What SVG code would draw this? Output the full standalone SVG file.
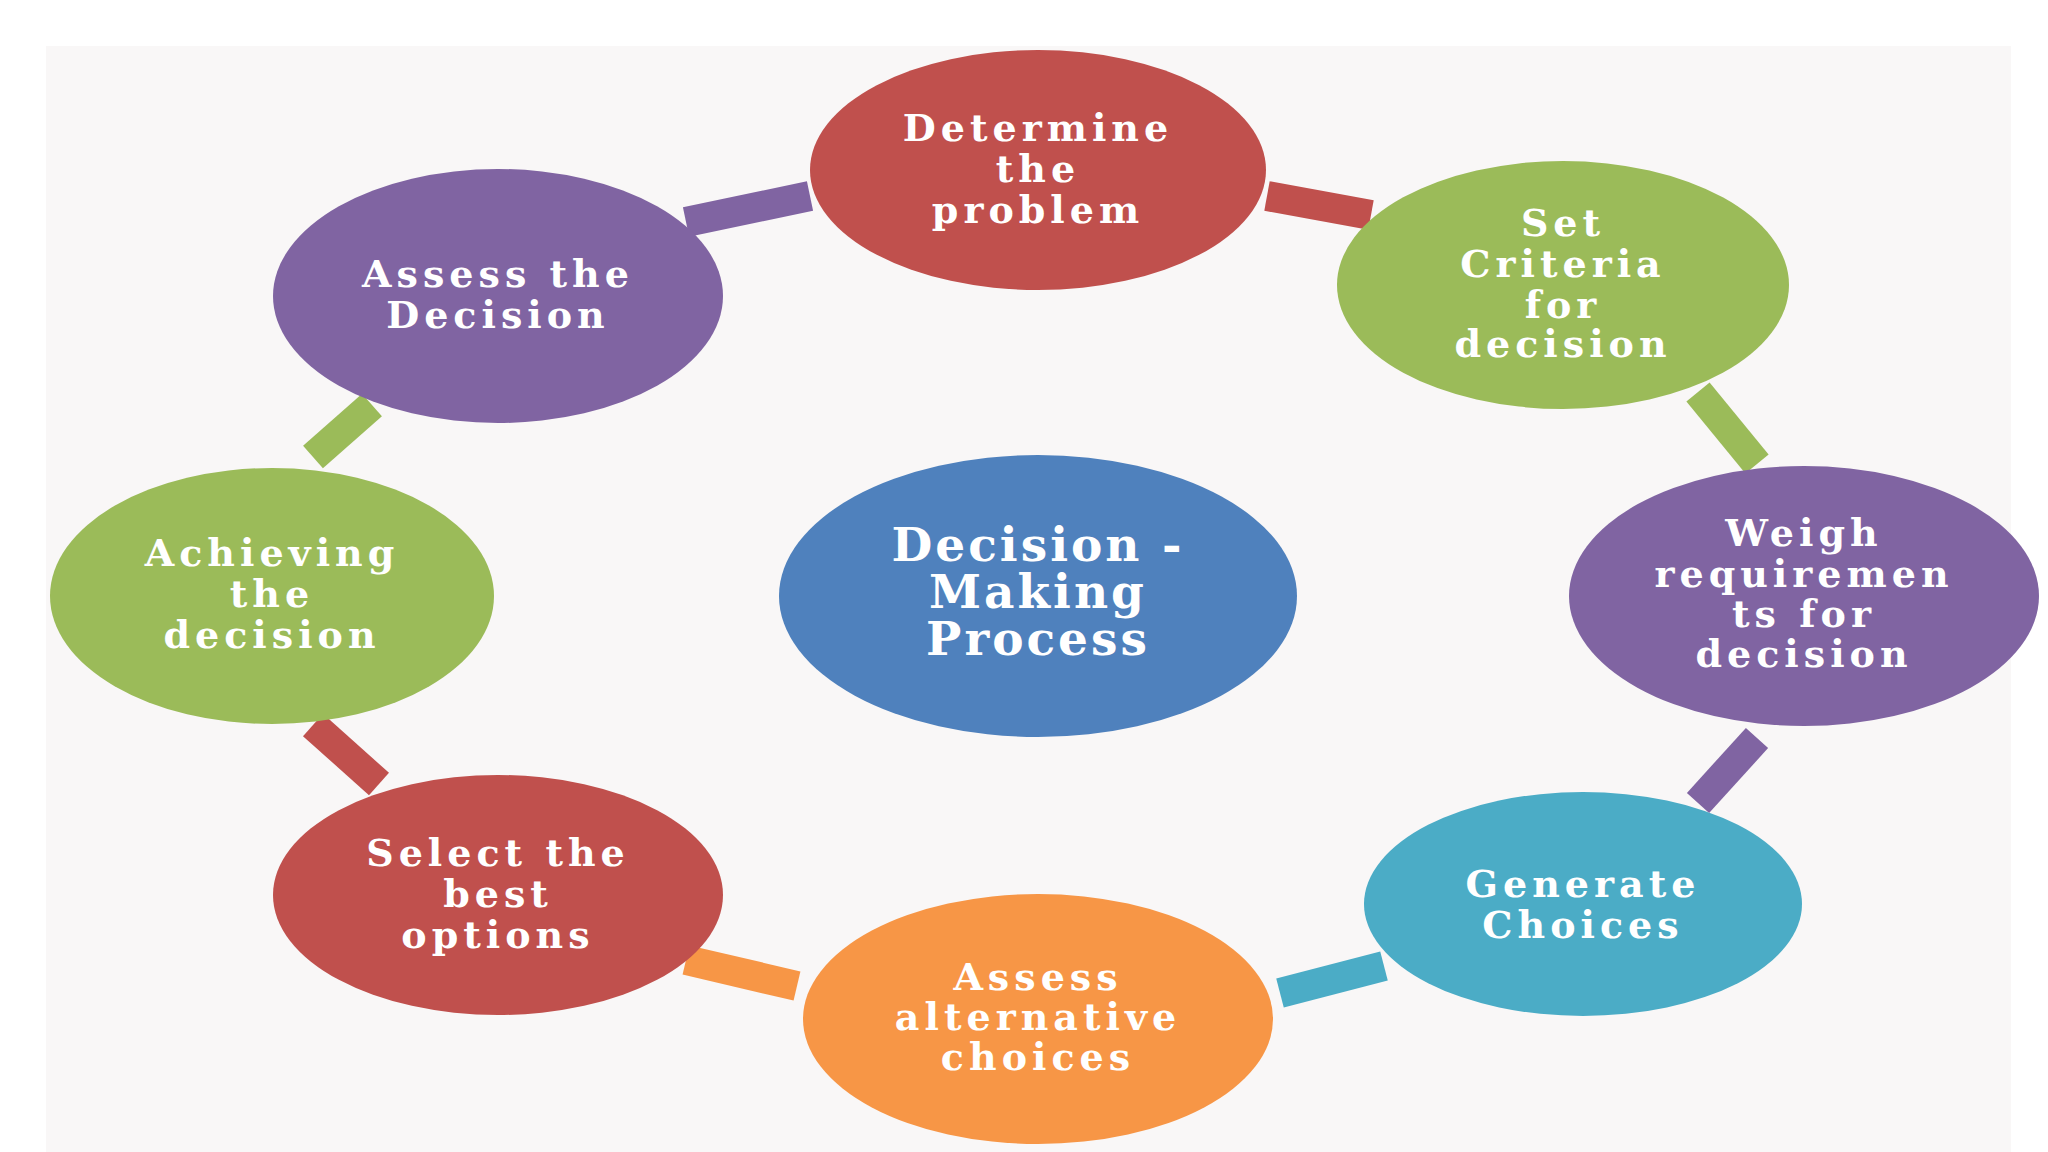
<svg xmlns="http://www.w3.org/2000/svg" width="2048" height="1152" viewBox="0 0 2048 1152">
<style>
.t{font-family:"DejaVu Serif","Liberation Serif",serif;font-weight:bold;fill:#fff;font-size:38px;text-anchor:middle;letter-spacing:5px}
.c{font-size:47px;letter-spacing:3px}
.b{stroke-width:30;fill:none}
</style>
<rect width="2048" height="1152" fill="#fff"/>
<rect x="46" y="46" width="1965" height="1106" fill="#f9f7f7"/>
<g id="connectors">
<line class="b" x1="686" y1="222" x2="810" y2="196" stroke="#8064a2"/>
<line class="b" x1="1267" y1="196" x2="1371" y2="215" stroke="#c0504d"/>
<line class="b" x1="1698" y1="392" x2="1757" y2="464" stroke="#9bbb59"/>
<line class="b" x1="1757" y1="738" x2="1698" y2="803" stroke="#8064a2"/>
<line class="b" x1="1384" y1="966" x2="1280" y2="993" stroke="#4bacc6"/>
<line class="b" x1="797" y1="986" x2="686" y2="960" stroke="#f79646"/>
<line class="b" x1="379" y1="784" x2="313" y2="725" stroke="#c0504d"/>
<line class="b" x1="313" y1="457" x2="372" y2="405" stroke="#9bbb59"/>
</g>
<g id="n1"><ellipse cx="1038" cy="170" rx="228" ry="120" fill="#c0504d"/>
<text class="t" x="1038" y="141">Determine</text><text class="t" x="1038" y="182">the</text><text class="t" x="1038" y="223">problem</text></g>
<g id="n2"><ellipse cx="1563" cy="285" rx="226" ry="124" fill="#9bbb59"/>
<text class="t" x="1563" y="236">Set</text><text class="t" x="1563" y="277">Criteria</text><text class="t" x="1563" y="318">for</text><text class="t" x="1563" y="357">decision</text></g>
<g id="n3"><ellipse cx="1804" cy="596" rx="235" ry="130" fill="#8064a2"/>
<text class="t" x="1804" y="546">Weigh</text><text class="t" x="1804" y="587">requiremen</text><text class="t" x="1804" y="627">ts for</text><text class="t" x="1804" y="667">decision</text></g>
<g id="n4"><ellipse cx="1583" cy="904" rx="219" ry="112" fill="#4bacc6"/>
<text class="t" x="1583" y="897">Generate</text><text class="t" x="1583" y="938">Choices</text></g>
<g id="n5"><ellipse cx="1038" cy="1019" rx="235" ry="125" fill="#f79646"/>
<text class="t" x="1038" y="990">Assess</text><text class="t" x="1038" y="1030">alternative</text><text class="t" x="1038" y="1070">choices</text></g>
<g id="n6"><ellipse cx="498" cy="895" rx="225" ry="120" fill="#c0504d"/>
<text class="t" x="498" y="866">Select the</text><text class="t" x="498" y="907">best</text><text class="t" x="498" y="948">options</text></g>
<g id="n7"><ellipse cx="272" cy="596" rx="222" ry="128" fill="#9bbb59"/>
<text class="t" x="272" y="566">Achieving</text><text class="t" x="272" y="607">the</text><text class="t" x="272" y="648">decision</text></g>
<g id="n8"><ellipse cx="498" cy="296" rx="225" ry="127" fill="#8064a2"/>
<text class="t" x="498" y="287">Assess the</text><text class="t" x="498" y="328">Decision</text></g>
<g id="center"><ellipse cx="1038" cy="596" rx="259" ry="141" fill="#4f81bd"/>
<text class="t c" x="1038" y="561">Decision -</text><text class="t c" x="1038" y="608">Making</text><text class="t c" x="1038" y="655">Process</text></g>
</svg>
